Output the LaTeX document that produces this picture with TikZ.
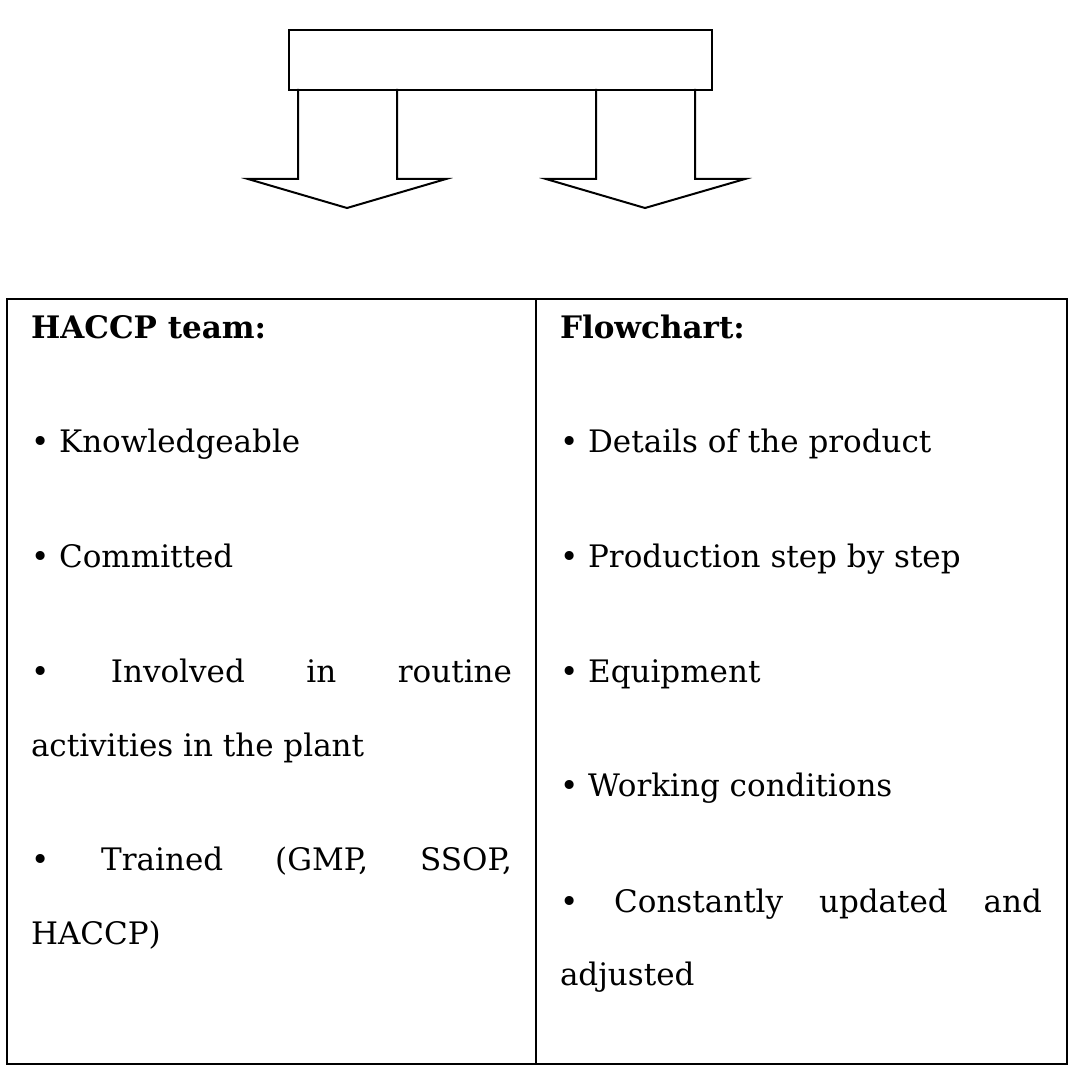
\documentclass[tikz,border=0pt]{standalone}
\usepackage{fontspec}
\setmainfont{DejaVu Serif}
\begin{document}
\begin{tikzpicture}[x=1pt,y=-1pt,line width=2pt,
 txt/.style={anchor=base west,inner sep=0pt,font=\fontsize{31}{37}\selectfont}]
\useasboundingbox (0,0) rectangle (1086,1091);
\node[draw,minimum width=423pt,minimum height=60pt,inner sep=0pt,anchor=north west] (top) at (288,29) {};
\draw (298,89) -- (298,179) -- (248,179) -- (347,208) -- (446,179) -- (397,179) -- (397,89);
\draw (596,89) -- (596,179) -- (546,179) -- (645,208) -- (745,179) -- (695,179) -- (695,89);
\node[draw,minimum width=1060pt,minimum height=765pt,inner sep=0pt,anchor=north west] (tab) at (6,298) {};
\draw (536,298) -- (536,1063);
\node[txt,font=\fontsize{31}{37}\selectfont\bfseries] (l0) at (30,338) {HACCP team:};
\node[txt] (l1) at (30,452) {• Knowledgeable};
\node[txt] (l2) at (30,567) {• Committed};
\node[txt] (l3) at (30,682) {\hbox to 481pt{•\hfill Involved\hfill in\hfill routine}};
\node[txt] (l4) at (30,756) {activities in the plant};
\node[txt] (l5) at (30,870) {\hbox to 481pt{•\hfill Trained\hfill (GMP,\hfill SSOP,}};
\node[txt] (l6) at (30,944) {HACCP)};
\node[txt,font=\fontsize{31}{37}\selectfont\bfseries] (r0) at (559,338) {Flowchart:};
\node[txt] (r1) at (559,452) {• Details of the product};
\node[txt] (r2) at (559,567) {• Production step by step};
\node[txt] (r3) at (559,682) {• Equipment};
\node[txt] (r4) at (559,796) {• Working conditions};
\node[txt] (r5) at (559,912) {\hbox to 482pt{•\hfill Constantly\hfill updated\hfill and}};
\node[txt] (r6) at (559,985) {adjusted};
\end{tikzpicture}
\end{document}
